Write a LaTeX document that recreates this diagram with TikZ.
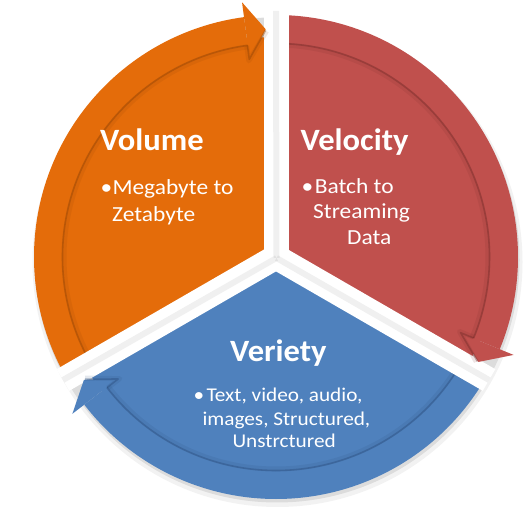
\documentclass[tikz,border=0pt]{standalone}
\usepackage{fontspec}
\setmainfont{Carlito}
\newfontfamily\ttlfont{Carlito}[FakeStretch=1.05]
\newfontfamily\bdyfont{Carlito}[FakeStretch=1.09]
\definecolor{cOrange}{HTML}{E46C0A}
\definecolor{cOrangeD}{HTML}{8A4005}
\definecolor{cRed}{HTML}{C0504D}
\definecolor{cRedD}{HTML}{6E2826}
\definecolor{cBlue}{HTML}{4F81BD}
\definecolor{cBlueD}{HTML}{284A78}
\tikzset{
  ttl/.style={anchor=base west, inner sep=0pt, text=white, font=\ttlfont\bfseries\fontsize{31}{31}\selectfont},
  bdy/.style={anchor=base west, inner sep=0pt, text=white, font=\bdyfont\fontsize{21.5}{26}\selectfont},
  bdysmall/.style={anchor=base west, inner sep=0pt, text=white, font=\bdyfont\fontsize{19.5}{24}\selectfont},
  gapline/.style={white, line width=25pt},
  gapshade/.style={black, opacity=0.06, line width=6pt},
  softedge/.style={line width=5pt, opacity=0.12, line join=round},
  hardedge/.style={line width=1.6pt, opacity=0.40, line join=round},
}
\newcommand{\cycseg}[3]{%
  \begin{scope}[shift={(C)}, rotate=#1]
    \fill[#2] (0,0) -- (90:220pt) arc[start angle=90, end angle=210, radius=220pt] -- cycle;
    \fill[#2] (210:242pt) arc[start angle=210, end angle=97.6, radius=242pt]
      -- (97.6:214.5pt) arc[start angle=97.6, end angle=210, radius=214.5pt] -- cycle;
    \draw[#3, softedge] (208:212pt) arc[start angle=208, end angle=97.6, radius=212pt];
    \draw[#3, hardedge] (208:213.5pt) arc[start angle=208, end angle=97.6, radius=213.5pt];
  \end{scope}}
\newcommand{\cychead}[3]{%
  \begin{scope}[shift={(C)}, rotate=#1]
    \fill[#2] (97.6:257pt) -- (92.6:228pt) -- (97.6:200pt) -- cycle;
    \draw[#3, softedge] (97.9:213pt) -- (97.9:198pt) -- (92.4:226pt);
    \draw[#3, hardedge] (97.7:213.5pt) -- (97.7:199.5pt) -- (92.6:227pt);
  \end{scope}}
\begin{document}
\begin{tikzpicture}[x=1pt, y=1pt]
  \useasboundingbox (0,0) rectangle (522,532);
  \fill[white] (0,0) rectangle (522,532);
  \coordinate (C) at (276,275);
  % soft outer shadow
  \fill[black, opacity=0.05] ([shift={(1.5,-5)}]C) circle (245pt);
  \fill[black, opacity=0.09] ([shift={(1,-3)}]C) circle (242.5pt);
  % segments
  \cycseg{0}{cOrange}{cOrangeD}
  \cycseg{-120}{cRed}{cRedD}
  \cycseg{-240}{cBlue}{cBlueD}
  % gaps
  \coordinate (g1) at ([shift={(90:246pt)}]C);
  \coordinate (g2) at ([shift={(210:246pt)}]C);
  \coordinate (g3) at ([shift={(330:246pt)}]C);
  \draw[gapline] (C) -- (g1);
  \draw[gapline] (C) -- (g2);
  \draw[gapline] (C) -- (g3);
  \fill[white] (C) circle (13pt);
  \draw[gapshade] ([shift={(0.5,-1)}]C) -- (g1);
  \draw[gapshade] ([shift={(0.5,-1)}]C) -- (g2);
  \draw[gapshade] ([shift={(0.5,-1)}]C) -- (g3);
  % arrow heads
  \cychead{0}{cOrange}{cOrangeD}
  \cychead{-120}{cRed}{cRedD}
  \cychead{-240}{cBlue}{cBlueD}
  % texts
  \node[ttl] (volT) at (100,381) {Volume};
  \node[bdy] (volB) at (100.5,337) {•};
  \node[bdy] (volL1) at (112.3,337) {Megabyte to};
  \node[bdy] (volL2) at (112,310.5) {Zetabyte};
  \node[ttl] (velT) at (300.5,381) {Velocity};
  \node[bdy] (velB) at (301.5,338.7) {•};
  \node[bdy] (velL1) at (314.7,338.7) {Batch to};
  \node[bdy] (velL2) at (313,313) {Streaming};
  \node[bdy] (velL3) at (347,287) {Data};
  \node[ttl] (varT) at (230,170.3) {Veriety};
  \node[bdysmall] (varB) at (193.5,130.3) {•};
  \node[bdysmall] (varL1) at (206.3,130.3) {Text, video, audio,};
  \node[bdysmall] (varL2) at (202.3,106.3) {images, Structured,};
  \node[bdysmall] (varL3) at (232.3,84.3) {Unstrctured};
\end{tikzpicture}
\end{document}
